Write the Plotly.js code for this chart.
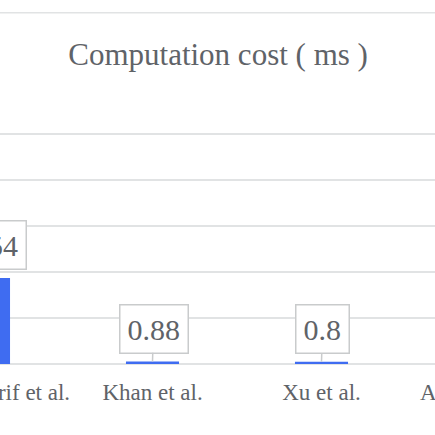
<!DOCTYPE html>
<html>
<head>
<meta charset="utf-8">
<script src="https://cdn.plot.ly/plotly-3.0.1.min.js"></script>
<style>
  html, body { margin: 0; padding: 0; overflow: hidden; background: #fff; }
  /* the picture is a crop of a wider chart, so the plot sits partly off-screen */
  #chart { position: absolute; left: -101.5px; top: 0; width: 676px; height: 435px; }
</style>
</head>
<body>
<div id="chart"></div>
<script>
const schemes = ['Waqas Sharif et al.', 'Khan et al.', 'Xu et al.', 'Alzahrani et al.'];
const costMs = [30.54, 0.88, 0.8, 0];
const costLabels = ['30.54', '0.88', '0.8', ''];

const textGrey = '#5f6368';
const gridGrey = '#e1e3e4';
const serif = 'Liberation Serif, Times New Roman, serif';

const bars = {
    x: schemes,
    y: costMs,
    type: 'bar',
    marker: { color: '#3f6cf1' },
    hoverinfo: 'skip'
};

// callout boxes above each bar
const callouts = [];
for (let i = 0; i < schemes.length; i++) {
    if (costLabels[i] === '') continue;
    callouts.push({
        x: schemes[i],
        y: costMs[i],
        text: costLabels[i],
        font: { family: serif, size: 30, color: textGrey },
        bgcolor: '#ffffff',
        bordercolor: '#c9cbcc',
        borderwidth: 1.5,
        borderpad: 7,
        showarrow: true,
        arrowhead: 0,
        arrowwidth: 1.5,
        arrowcolor: '#c9cbcc',
        ax: 1,
        ay: -33
    });
}

const layout = {
    width: 676,
    height: 435,
    margin: { l: 0, r: 0, t: 88, b: 71 },
    paper_bgcolor: '#ffffff',
    plot_bgcolor: '#ffffff',
    showlegend: false,
    bargap: 0.686,
    title: {
        text: 'Computation cost ( ms )',
        font: { family: serif, size: 31, color: textGrey },
        x: 0.472,
        xanchor: 'center',
        yref: 'container',
        y: 0.875,
        yanchor: 'middle'
    },
    xaxis: {
        type: 'category',
        range: [-0.5, 3.5],
        tickangle: 0,
        tickfont: { family: serif, size: 23, color: textGrey },
        ticklabelstandoff: 12,
        showgrid: false,
        showline: false,
        ticks: '',
        automargin: false
    },
    yaxis: {
        range: [0, 98],
        dtick: 16.333,
        showticklabels: false,
        gridcolor: gridGrey,
        gridwidth: 1.5,
        zeroline: true,
        zerolinecolor: gridGrey,
        zerolinewidth: 1.5,
        automargin: false
    },
    shapes: [{
        type: 'line', xref: 'paper', yref: 'paper',
        x0: 0, x1: 1, y0: 1.273, y1: 1.273,
        line: { color: gridGrey, width: 1.5 }
    }],
    annotations: callouts
};

Plotly.newPlot('chart', [bars], layout, { staticPlot: true, displayModeBar: false });
</script>
</body>
</html>
